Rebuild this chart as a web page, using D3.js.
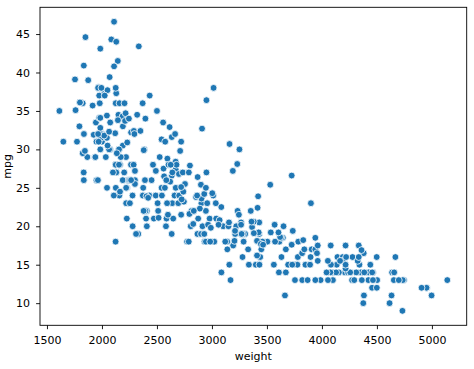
<!DOCTYPE html>
<html>
<head>
<meta charset="utf-8">
<script src="https://cdn.jsdelivr.net/npm/d3@7"></script>
<style>
  body { margin: 0; background: #fff; }
  text { font-family: "DejaVu Sans", sans-serif; }
</style>
</head>
<body>
<script>
// weight / mpg, same order
const weight = [
  3504,3693,3436,3433,3449,4341,4354,4312,4425,3850,
  3563,3609,3761,3086,2372,2833,2774,2587,2130,1835,
  2672,2430,2375,2234,2648,4615,4376,4382,4732,2130,
  2264,2228,2046,2634,3439,3329,3302,3288,4209,4464,
  4154,4096,4955,4746,5140,2962,2408,3282,3139,2220,
  2123,2074,2065,1773,1613,1834,1955,2278,2126,2254,
  2408,2226,4274,4385,4135,4129,3672,4633,4502,4456,
  4422,2330,3892,4098,4294,4077,2933,2511,2979,2189,
  2395,2288,2506,2164,2100,4100,3672,3988,4042,3777,
  4952,4464,4363,4237,4735,4951,3821,3121,3278,2945,
  3021,2904,1950,4997,4906,4654,4499,2789,2279,2401,
  2379,2124,2310,2472,2265,4082,4278,1867,2158,2582,
  2868,3399,2660,2807,3664,3102,2875,2901,3336,1950,
  2451,1836,2542,3781,3632,3613,4141,4699,4457,4638,
  4257,2219,1963,2300,1649,2003,2125,2108,2246,2489,
  2391,2000,3264,3459,3432,3158,4668,4440,4498,4657,
  3907,3897,3730,3785,3039,3221,3169,2171,2639,2914,
  2592,2702,2223,2545,2984,1937,3211,2694,2957,2945,
  2671,1795,2464,2220,2572,2255,2202,4215,4190,3962,
  4215,3233,3353,3012,3085,2035,2164,1937,1795,3651,
  3574,3645,3193,1825,1990,2155,2565,3150,3940,3270,
  2930,3820,4380,4055,3870,3755,2045,2155,1825,2300,
  1945,4335,3940,4190,4215,3962,3265,3430,3630,4220,
  4165,4325,4335,1940,2740,2265,2755,2051,2075,1985,
  2190,2815,2600,2720,1985,1800,1985,2070,1800,3365,
  3735,3570,3535,3155,2965,2720,3430,3210,3380,3070,
  3620,3410,3425,3445,3205,4080,2155,2560,2300,2230,
  2515,2745,2855,2405,2830,3140,2795,3410,1990,2135,
  3245,2990,2890,3265,3360,3840,3725,3955,3830,4360,
  4054,3605,3940,1925,1975,1915,2670,3530,3900,3190,
  3420,2200,2150,2020,2130,2670,2595,2700,2556,2144,
  1968,2120,2019,2678,2870,3003,3381,2188,2711,2542,
  2434,2265,2110,2800,2110,2085,2335,2950,3250,1850,
  1835,2145,1845,2910,2420,2500,2905,2290,2490,2635,
  2620,2725,2385,1755,1875,1760,2065,1975,2050,1985,
  2215,2045,2380,2190,2320,2210,2350,2615,2635,3230,
  3160,2900,2930,3415,3725,3060,3465,2605,2640,2395,
  2575,2525,2735,2865,3035,1980,2025,1970,2125,2125,
  2160,2205,2245,1965,1965,1995,2945,3015,2585,2835,
  2665,2370,2950,2790,2130,2295,2625,2720
]
const mpg = [
  18,15,18,16,17,15,14,14,14,15,
  15,14,15,14,24,22,18,21,27,26,
  25,24,25,26,21,10,10,11,9,27,
  28,25,25,19,16,17,19,18,14,14,
  14,14,12,13,13,18,22,19,18,23,
  28,30,30,31,35,27,26,24,25,23,
  20,21,13,14,15,14,17,11,13,12,
  13,19,15,13,13,14,18,22,21,26,
  22,28,23,28,27,13,14,13,14,15,
  12,13,13,14,13,12,13,18,16,18,
  18,23,26,11,12,13,12,18,20,21,
  22,18,19,21,26,15,16,29,24,20,
  19,15,24,20,11,20,21,19,15,31,
  26,32,25,16,16,18,16,13,14,14,
  14,29,26,26,31,32,28,24,26,24,
  26,31,19,18,15,15,16,15,16,14,
  17,16,15,18,21,20,13,29,23,20,
  23,24,25,24,18,29,19,23,23,22,
  25,33,28,25,25,26,27,17.5,16,15.5,
  14.5,22,22,24,22.5,29,24.5,29,33,20,
  18,18.5,17.5,29.5,32,28,26.5,20,13,19,
  19,16.5,16.5,13,13,13,31.5,30,36,25.5,
  33.5,17.5,17,15.5,15,17.5,20.5,19,18.5,16,
  15.5,15.5,16,29,24.5,26,25.5,30.5,33.5,30,
  30.5,22,21.5,21.5,43.1,36.1,32.8,39.4,36.1,19.9,
  19.4,20.2,19.2,20.5,20.2,25.1,20.5,19.4,20.6,20.8,
  18.6,18.1,19.2,17.7,18.1,17.5,30,27.5,27.2,30.9,
  21.1,23.2,23.8,23.9,20.3,17,21.6,16.2,31.5,29.5,
  21.5,19.8,22.3,20.2,20.6,17,17.6,16.5,18.2,16.9,
  15.5,19.2,18.5,31.9,34.1,35.7,27.4,25.4,23,27.2,
  23.9,34.2,34.5,31.8,37.3,28.4,28.8,26.8,33.5,41.5,
  38.1,32.1,37.2,28,26.4,24.3,19.1,34.3,29.8,31.3,
  37,32.2,46.6,27.9,40.8,44.3,43.4,36.4,30,44.6,
  40.9,33.8,29.8,32.7,23.7,35,23.6,32.4,27.2,26.6,
  25.8,23.5,30,39.1,39,35.1,32.3,37,37.7,34.1,
  34.7,34.4,29.9,33,34.5,33.7,32.4,32.9,31.6,28.1,
  30.7,25.4,24.2,22.4,26.6,20.2,17.6,28,27,34,
  31,29,27,24,23,36,37,31,38,36,
  36,36,34,38,32,38,25,38,26,22,
  32,36,27,27,44,32,28,31
]
const xTicks = [1500, 2000, 2500, 3000, 3500, 4000, 4500, 5000]
const yTicks = [10, 15, 20, 25, 30, 35, 40, 45]

const W = 474, H = 369
const plot = {left: 40, right: 466.7, top: 7.3, bottom: 325.3}

const svg = d3.select('body').append('svg')
    .attr('width', W)
    .attr('height', H)
    .style('background-color', '#fff')

// matplotlib style 5% margins
const pad = (ext) => {
  const m = (ext[1] - ext[0]) * 0.05
  return [ext[0] - m, ext[1] + m]
}

const xScale = d3.scaleLinear()
    .domain(pad(d3.extent(weight)))
    .range([plot.left, plot.right])

const yScale = d3.scaleLinear()
    .domain(pad(d3.extent(mpg)))
    .range([plot.bottom, plot.top])

const points = weight.map((w, i) => ({w, m: mpg[i]}))

svg.append('g')
  .selectAll('circle')
  .data(points)
  .join('circle')
    .attr('cx', d => xScale(d.w))
    .attr('cy', d => yScale(d.m))
    .attr('r', 3.4)
    .style('fill', '#1f77b4')
    .style('stroke', '#fff')
    .style('stroke-width', 0.8)

const xAxis = svg.append('g')
    .attr('transform', `translate(0, ${plot.bottom})`)
    .call(d3.axisBottom(xScale).tickValues(xTicks).tickFormat(d3.format('d'))
      .tickSize(3.9).tickPadding(6.5).tickSizeOuter(0))

const yAxis = svg.append('g')
    .attr('transform', `translate(${plot.left}, 0)`)
    .call(d3.axisLeft(yScale).tickValues(yTicks).tickFormat(d3.format('d'))
      .tickSize(3.9).tickPadding(6).tickSizeOuter(0))

;[xAxis, yAxis].forEach(a => {
  a.select('.domain').remove()
  a.selectAll('line').style('stroke', '#000').style('stroke-width', 0.9)
  a.selectAll('text').style('font-size', '11px').style('fill', '#000')
    .style('font-family', '"DejaVu Sans", sans-serif')
})

svg.append('rect')
    .attr('x', plot.left)
    .attr('y', plot.top)
    .attr('width', plot.right - plot.left)
    .attr('height', plot.bottom - plot.top)
    .style('fill', 'none')
    .style('stroke', '#000')
    .style('stroke-width', 0.9)

svg.append('text')
    .attr('x', (plot.left + plot.right) / 2)
    .attr('y', 360)
    .attr('text-anchor', 'middle')
    .style('font-size', '11px')
    .text('weight')

svg.append('text')
    .attr('transform', `translate(10.5, ${(plot.top + plot.bottom) / 2}) rotate(-90)`)
    .attr('text-anchor', 'middle')
    .style('font-size', '11px')
    .text('mpg')
</script>
</body>
</html>
